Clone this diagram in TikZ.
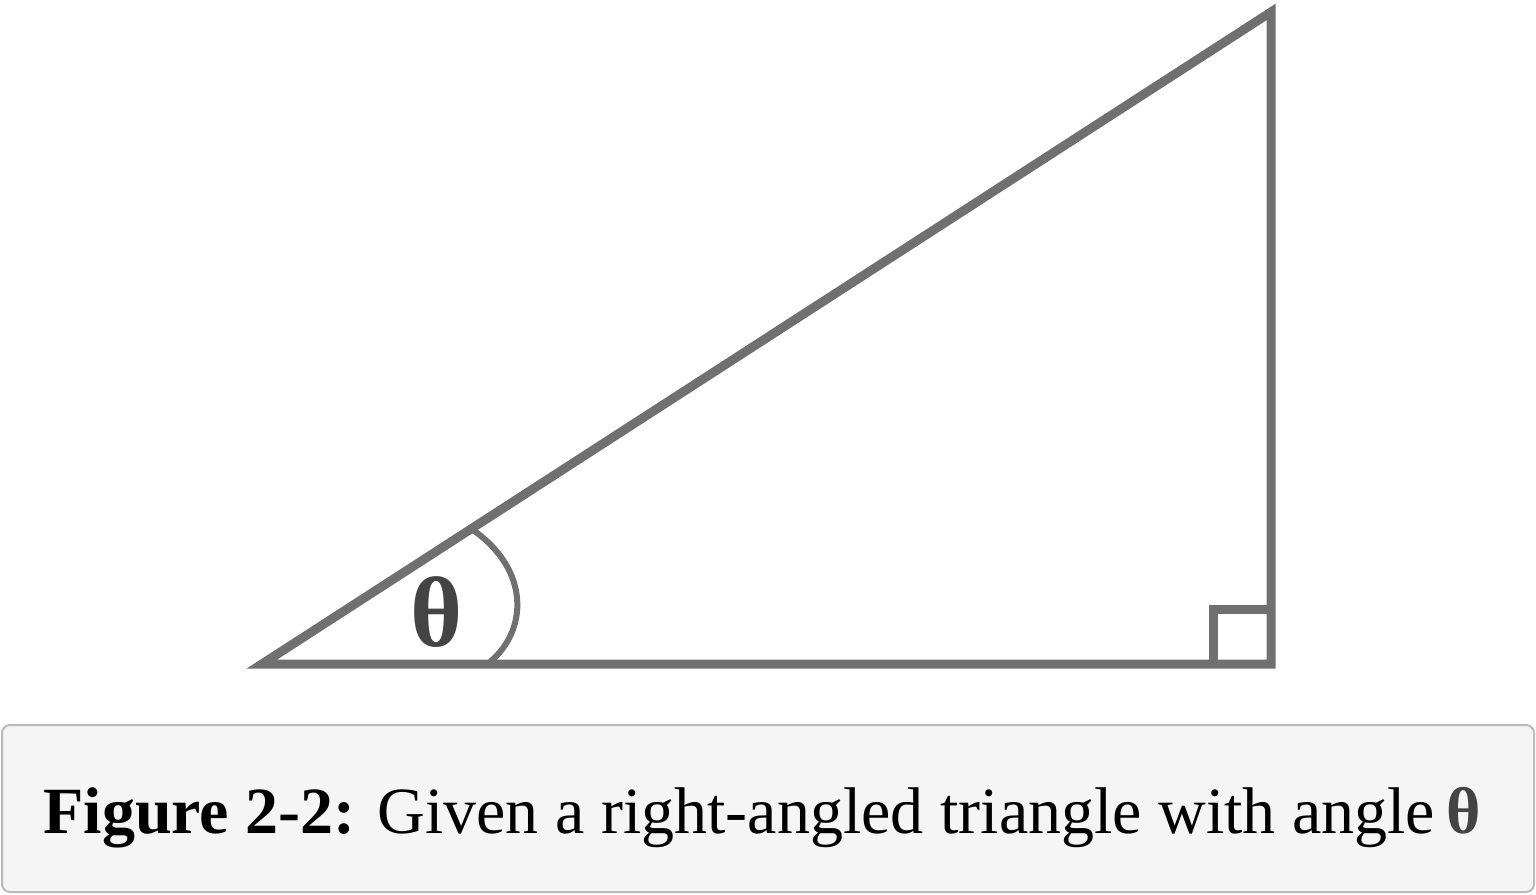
\documentclass[tikz,border=0pt]{standalone}
\usepackage{fontspec}
\setmainfont{Liberation Serif}
\usetikzlibrary{positioning}
\definecolor{linegray}{HTML}{707070}
\definecolor{thetagray}{HTML}{444444}
\definecolor{boxfill}{HTML}{F5F5F5}
\definecolor{boxedge}{HTML}{BBBBBB}
\tikzset{
  triline/.style={draw=linegray, line width=4.5pt, line join=miter},
  arcline/.style={draw=linegray, line width=3pt},
  captionbox/.style={draw=boxedge, fill=boxfill, line width=1pt, rounded corners=4pt}
}
\def\bigtheta{{\bfseries\color{thetagray}θ}}
\begin{document}
\begin{tikzpicture}[x=0.5pt, y=-0.5pt]
  \useasboundingbox (0,0) rectangle (1536,894);
  % triangle corners
  \coordinate (A) at (262,664);
  \coordinate (B) at (1271,664);
  \coordinate (C) at (1271,12);
  \draw[triline] (A) -- (B) -- (C) -- cycle;
  % right angle mark
  \draw[triline] (1213,664) -- (1213,609) -- (1271,609);
  % angle at A
  \coordinate (a1) at (473,530);
  \coordinate (a2) at (490,662);
  \draw[arcline] (a1) .. controls (530,570) and (528,630) .. (a2);
  \node[font=\fontsize{50}{60}\selectfont] (theta) at (437,612) {\bigtheta};
  % caption
  \draw[captionbox] (2,725) rectangle (1534,892);
  \node[anchor=base west, inner sep=0pt, font=\fontsize{33}{40}\selectfont] (caption) at (43,833)
    {\textbf{Figure 2-2:} Given a right-angled triangle with angle\,\bigtheta};
\end{tikzpicture}
\end{document}
